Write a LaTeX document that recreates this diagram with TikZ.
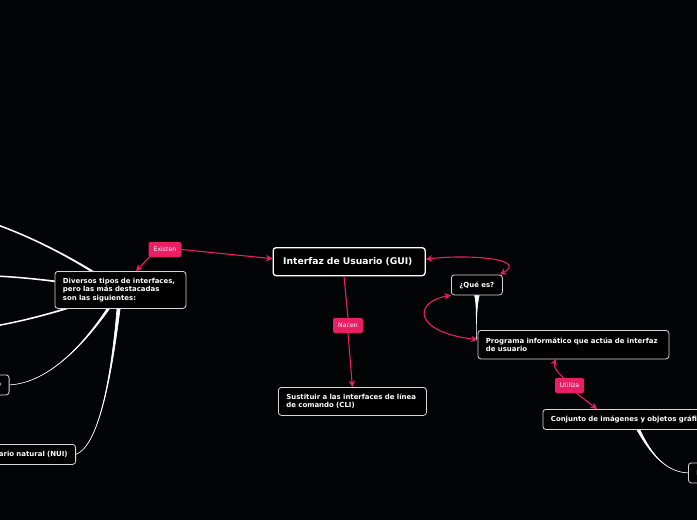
\documentclass[tikz,border=0pt]{standalone}
\usepackage{fontspec}
\setmainfont{DejaVu Sans}
\usetikzlibrary{arrows.meta,calc,backgrounds}
\definecolor{crimson}{HTML}{E91E63}
\definecolor{bgdark}{HTML}{030406}
\definecolor{edgegrey}{HTML}{D8D8D8}
\tikzset{
  topic/.style={draw=edgegrey, rounded corners=3pt, fill=black, text=white, font=\fontsize{6.95}{8.5}\selectfont\bfseries, align=left, anchor=north west, inner xsep=8pt, inner ysep=0pt, line width=0.8pt},
  maintopic/.style={topic, draw=white, line width=1.3pt, inner xsep=10pt, font=\fontsize{9.2}{11}\selectfont\bfseries},
  tag/.style={fill=crimson, rounded corners=2pt, text=white, font=\fontsize{6.2}{7}\selectfont, inner sep=0pt, minimum width=33pt, minimum height=15pt},
  link/.style={draw=crimson, line width=1.1pt},
  arrowlink/.style={link, -{Stealth[length=6.5pt,width=6.5pt]}},
  bothlink/.style={link, {Stealth[length=6.5pt,width=6.5pt]}-{Stealth[length=6.5pt,width=6.5pt]}},
  branch/.style={fill=white, draw=white, line width=0.6pt, line join=round},
}
% white branch that gets thinner from its source #2 to its end #6
\newcommand{\taper}[6][0.6pt]{\path[branch, line width=#1] ($(#2)+(#3)$) .. controls (#4) and (#5) .. (#6) .. controls (#5) and (#4) .. ($(#2)-(#3)$) -- cycle;}
\begin{document}
\begin{tikzpicture}[x=1pt,y=-1pt]

\useasboundingbox (0,0) rectangle (697,520);

% topics
\node [maintopic, text width=132pt, minimum height=28pt] (gui) at (272.5,247) {Interfaz de Usuario (GUI)};
\node [topic, text width=115pt, minimum height=37pt] (tipos) at (54.5,271) {Diversos tipos de interfaces,\\pero las más destacadas\\son las siguientes:};
\node [topic, text width=132pt, minimum height=28pt] (cli) at (278,387) {Sustituir a las interfaces de línea\\de comando (CLI)};
\node [topic, text width=35pt, minimum height=20pt] (que) at (451,274.5) {¿Qué es?};
\node [topic, text width=175pt, minimum height=28.5pt] (programa) at (477.5,330) {Programa informático que actúa de interfaz\\de usuario};
\node [topic, text width=170pt, minimum height=20pt] (conjunto) at (542.5,409) {Conjunto de imágenes y objetos gráfi};
\node [topic, text width=100pt, minimum height=20pt, anchor=north east] (nui) at (76,444) {\hfill ario natural (NUI)};
\node [topic, text width=20pt, minimum height=20pt, anchor=north east] (sinleft) at (9.5,374.5) {\hfill o};
\node [topic, text width=20pt, minimum height=20pt] (sinright) at (688,462.5) {I};
\coordinate (fork) at (636,425);

% tags
\node [tag] (existen) at (165,249.5) {Existen};
\node [tag, minimum width=30pt] (nacen) at (348,325.5) {Nacen};
\node [tag, minimum width=29pt] (utiliza) at (569.5,385.5) {Utiliza};

% branches
\begin{scope}[on background layer]
\fill[bgdark] (0,0) rectangle (697,520);
\taper[1.5pt]{tipos.center}{1.5,0}{85,265}{40,240}{-5,224}
\taper[1.5pt]{tipos.center}{0,1}{80,285}{40,278}{-5,276}
\taper[1.5pt]{tipos.center}{0,1}{80,305}{40,318}{-5,326}
\taper{tipos.center}{2,0}{90,340}{50,383}{sinleft.east}
\taper{tipos.center}{2,0}{113,370}{100,445}{nui.east}
\taper{que.south}{2.3,0}{477,305}{476,320}{476.5,340}
\taper{fork}{1.8,0}{652,458}{668,472}{sinright.west}
\end{scope}

% links
\draw[arrowlink] ([xshift=-14pt,yshift=-6pt]existen.center) -- (tipos.north -| 136,0);
\draw[arrowlink] (existen.east) -- ([yshift=3pt]gui.west);
\draw[link] (gui.south -| 344,0) -- (nacen.north);
\draw[arrowlink] (nacen.south) -- (cli.north);
\draw[bothlink] ([yshift=2.5pt]gui.east) .. controls (470,254) and (528,259) .. ([xshift=-3pt]que.north east);
\draw[bothlink] (que.south west) .. controls (413,302) and (413,332) .. ([yshift=5pt]programa.west);
\draw[arrowlink] ([xshift=-6pt]utiliza.north) .. controls (557,372) and (553,366) .. (556,359);
\draw[arrowlink] ([xshift=7pt]utiliza.south) -- (597,409);

\end{tikzpicture}
\end{document}
